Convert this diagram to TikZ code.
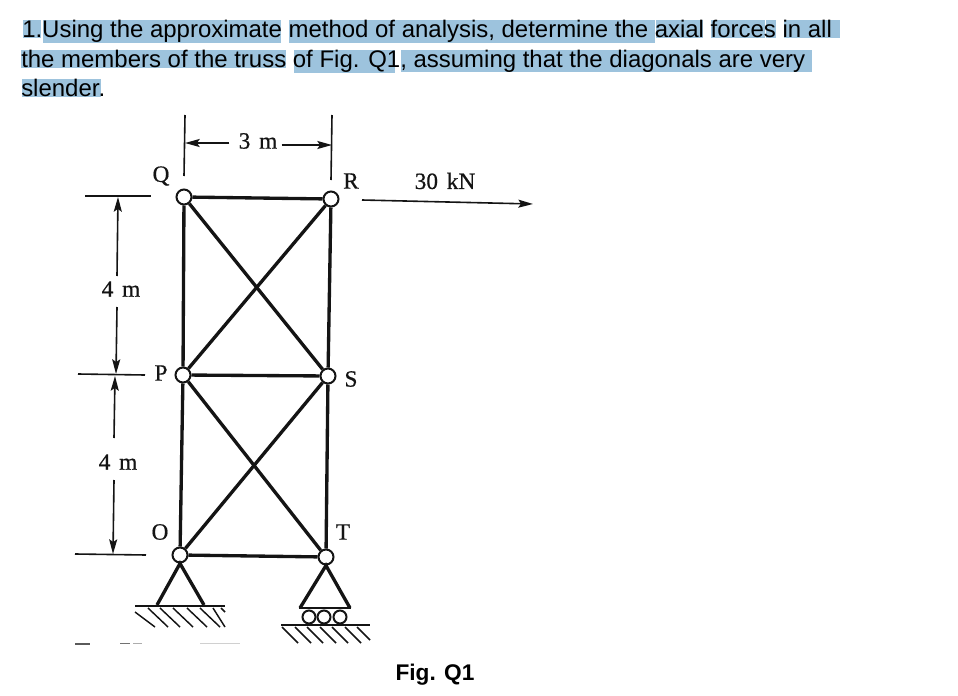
\documentclass[tikz,border=0pt]{standalone}
\usepackage{fontspec}
\setmainfont{Liberation Sans}
\newfontfamily\labelfont[WordSpace=1.5,FakeBold=0.6]{Liberation Serif}
\usetikzlibrary{arrows.meta}
\definecolor{hl}{RGB}{157,195,221}
\definecolor{ink}{RGB}{20,20,20}
\tikzset{
  joint/.style={circle,draw=ink,line width=1.5pt,fill=white,minimum size=15*0.75pt,inner sep=0pt},
  member/.style={draw=ink,line width=2.5pt},
  thinline/.style={draw=ink,line width=1.2pt},
  dimarrow/.style={thinline,-{Stealth[length=11pt,width=6pt,inset=2pt]}},
  lbl/.style={font=\labelfont\fontsize{17.5}{20}\selectfont,text=ink,inner sep=0pt},
  para/.style={font=\fontsize{17.97}{21}\selectfont,anchor=base west,inner sep=0pt,text=black},
  hatchline/.style={draw=ink,line width=1.1pt},
  ground/.style={draw=ink,line width=1.8pt},
  hlbox/.style={fill=hl,draw=none}
}
\begin{document}
\begin{tikzpicture}[x=0.75pt,y=-0.75pt]
\useasboundingbox (0,0) rectangle (958,696);
% highlights
\foreach \a/\b/\c/\d in {23/20/41/38, 43/20/281/43, 289/20/655/43, 656/20/703/38, 711/20/765/38, 766/20/776/38, 784/20/840/38,
  21/50/286/68, 294/50/395/73, 401/50/812/72, 22/79/101/97}
  \fill[hlbox] (\a,\b) rectangle (\c,\d);
% paragraph
\node[para] (l1) at (22,37) {1.Using the approximate method of analysis, determine the axial forces in all};
\node[para] (l2) at (21,67) {the members of the truss of Fig. Q1, assuming that the diagonals are very};
\node[para] (l3) at (21,96) {slender.};
% joints
\node[joint] (Q) at (184,197) {};
\node[joint] (R) at (331,199) {};
\node[joint] (P) at (183,375) {};
\node[joint] (S) at (328,376) {};
\node[joint] (O) at (180,555) {};
\node[joint] (T) at (326,557) {};
% members
\draw[member] (Q)--(R);
\draw[member] (P)--(S);
\draw[member] (O)--(T);
\draw[member] (Q)--(P);
\draw[member] (P)--(O);
\draw[member] (R)--(S);
\draw[member] (S)--(T);
\draw[member] (Q)--(S);
\draw[member] (R)--(P);
\draw[member] (P)--(T);
\draw[member] (S)--(O);
% supports
\coordinate (oL) at (157,605);
\coordinate (oR) at (204,605);
\coordinate (tL) at (300,608);
\coordinate (tR) at (350,608);
\draw[member] (oL)--(O.south)--(oR);
\draw[member] (tL)--(T.south)--(tR);
\draw[ground] (135,606)--(225,606);
\draw[ground] (299,608)--(351,608);
\draw[ground] (281,625)--(370,625);
\foreach \x in {309,324,340}
  \draw[draw=ink,line width=1.5pt,fill=white] (\x,617) circle[radius=6.5*0.75pt];
\draw[hatchline] (135,612)--(155,627);
\foreach \x in {148,160,173,187,200}
  \draw[hatchline] (\x,608)--(\x+20,627);
\draw[hatchline] (213,608)--(225,627);
\draw[hatchline] (221,608)--(225,612);
\foreach \x in {282,295,307,320,332,345}
  \draw[hatchline] (\x,627)--(\x+16,643);
\draw[hatchline] (357,627)--(370,640);
% traces at the lower edge of the scan
\draw[draw=ink!70,line width=1.5pt] (75,643.5)--(90,643.5);
\draw[draw=ink!60,line width=1.2pt] (120,643.5)--(130,643.5);
\draw[draw=ink!35,line width=1pt] (133,643.5)--(142,643.5);
\draw[draw=ink!20,line width=1pt] (200,643.5)--(240,643.5);
% dimension lines
\coordinate (vQa) at (185,115);\coordinate (vQb) at (184,176);
\coordinate (vRa) at (332,115);\coordinate (vRb) at (331,180);
\draw[thinline] (vQa)--(vQb);
\draw[thinline] (vRa)--(vRb);
\node[lbl] (w) at (258,141) {3 m};
\draw[dimarrow] (w.west)++(-9,2) -- (185,143);
\draw[dimarrow] (w.east)++(4,4) -- (332,145);
\coordinate (e1a) at (85,196);\coordinate (e1b) at (151,196);
\coordinate (e2a) at (78,374);\coordinate (e2b) at (145,375);
\coordinate (e3a) at (75,554);\coordinate (e3b) at (146,555);
\draw[thinline] (e1a)--(e1b);
\draw[thinline] (e2a)--(e2b);
\draw[thinline] (e3a)--(e3b);
\node[lbl] (h1) at (121,289) {4 m};
\node[lbl] (h2) at (118,462) {4 m};
\draw[dimarrow] (117,276)--(118,197);
\draw[dimarrow] (117,307)--(116,374);
\draw[dimarrow] (114,438)--(115,376);
\draw[dimarrow] (114,480)--(113,554);
% labels
\node[lbl] (lQ) at (161,176) {Q};
\node[lbl] (lR) at (351,181) {R};
\node[lbl] (lP) at (161,373) {P};
\node[lbl] (lS) at (351,379) {S};
\node[lbl] (lO) at (160,532) {O};
\node[lbl] (lT) at (343,532) {T};
\node[lbl] (load) at (445,181) {30 kN};
\coordinate (la) at (362,200);\coordinate (lb) at (533,204);
\draw[dimarrow] (la)--(lb);
\node[font=\bfseries\fontsize{17}{20}\selectfont,inner sep=0pt] (fig) at (435,675) {Fig. Q1};
\end{tikzpicture}
\end{document}
